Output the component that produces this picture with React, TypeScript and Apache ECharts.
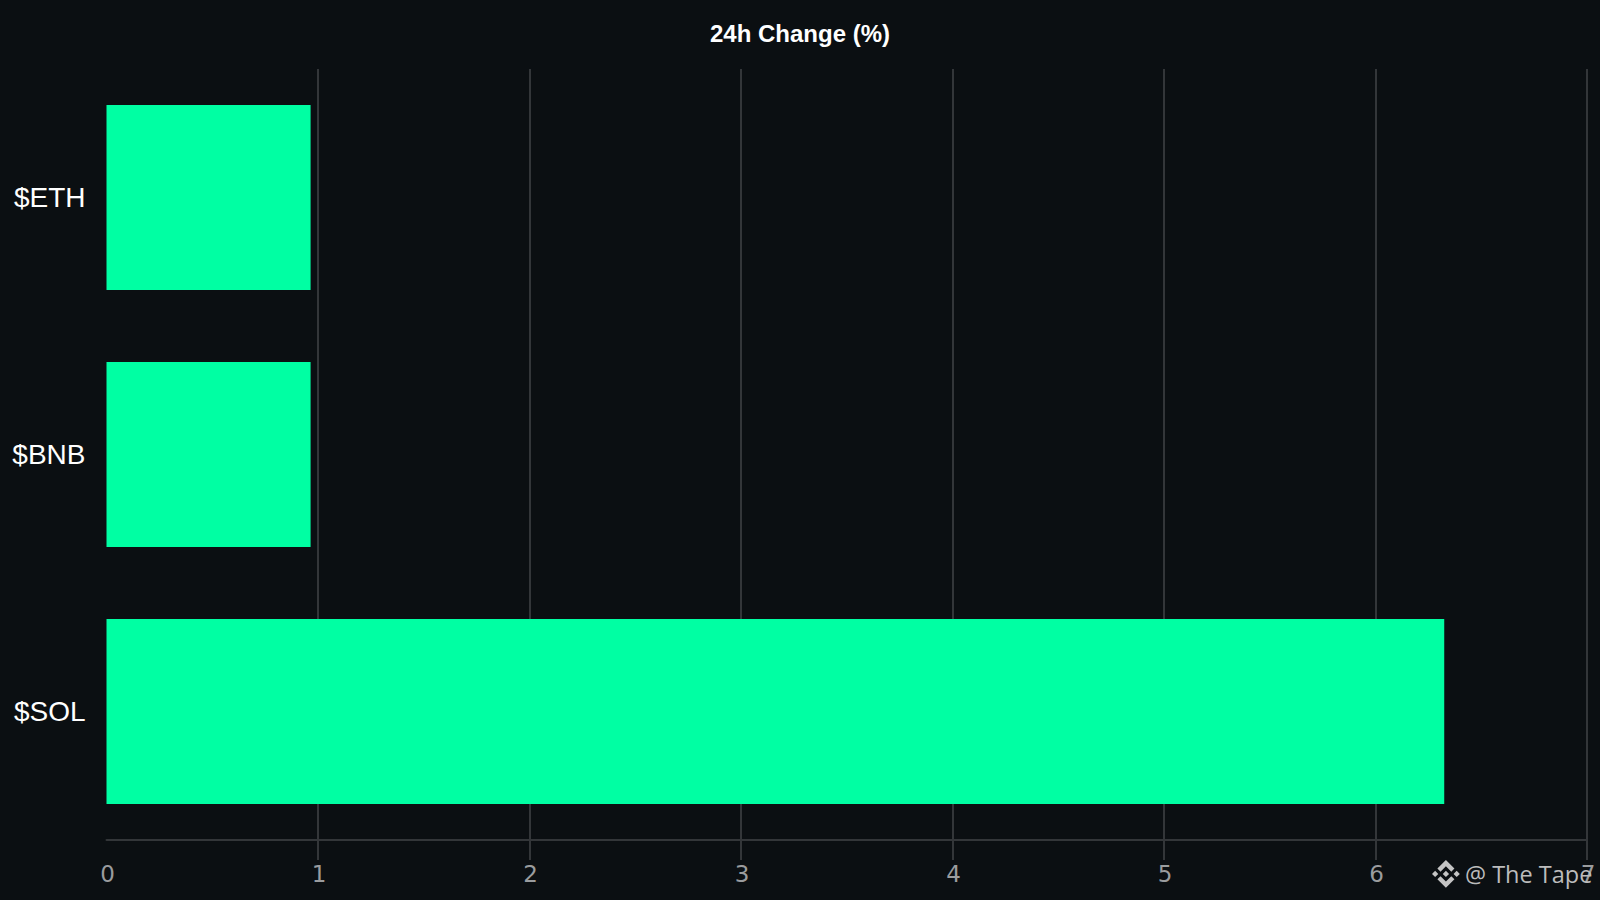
import React, { useEffect, useRef } from "react";
import * as echarts from "echarts";

const categories = ["$ETH", "$BNB", "$SOL"];
const changes = [0.965, 0.965, 6.325];
const xTicks = [0, 1, 2, 3, 4, 5, 6, 7];
const titleText = "24h Change (%)";
const watermarkText = "@ The Tape";

const LOGO =
  "M16.624 13.9202l2.7175 2.7154-7.353 7.353-7.353-7.352 2.7175-2.7164 4.6355 4.6595 4.6356-4.6595zm4.6366-4.6366L24 12l-2.7154 2.7164L18.5682 12l2.6924-2.7164zm-9.272.001l2.7163 2.6914-2.7164 2.7174v-.001L9.2721 12l2.7164-2.7154zm-9.2722-.001L5.4088 12l-2.6914 2.6924L0 12l2.7164-2.7164zM11.9885.0115l7.353 7.329-2.7174 2.7154-4.6356-4.6356-4.6355 4.6595-2.7174-2.7154 7.353-7.353z";
echarts.graphic.registerShape("logo", echarts.graphic.extendPath(LOGO, {}) as any);

export default function App() {
  const ref = useRef<HTMLDivElement>(null);
  useEffect(() => {
    const chart = echarts.init(ref.current!, undefined, { renderer: "svg" });
    chart.setOption({
      animation: false,
      backgroundColor: "#0b0f12",
      title: {
        text: titleText,
        left: "center",
        top: 16,
        textStyle: { color: "#ffffff", fontFamily: "Liberation Sans", fontSize: 24, fontWeight: "bold" },
      },
      grid: { left: 106.5, right: 13, top: 69, bottom: 60, containLabel: false },
      xAxis: {
        type: "value",
        min: xTicks[0],
        max: xTicks[xTicks.length - 1],
        interval: 1,
        axisLine: { show: true, lineStyle: { color: "#333639", width: 2 } },
        axisTick: { show: true, length: 20, customValues: xTicks.slice(1), lineStyle: { color: "#333639", width: 2 } },
        axisLabel: { color: "#9a9c9e", fontFamily: "DejaVu Sans", fontSize: 23, margin: 22, padding: [0, 0, 0, 2] },
        splitLine: { show: true, lineStyle: { color: "#333639", width: 2 } },
      },
      yAxis: {
        type: "category",
        data: categories,
        inverse: true,
        axisLine: { show: false },
        axisTick: { show: false },
        axisLabel: { color: "#ffffff", fontFamily: "Liberation Sans", fontSize: 28, margin: 21 },
        splitLine: { show: false },
      },
      series: [
        {
          type: "bar",
          data: changes,
          barCategoryGap: "28%",
          itemStyle: { color: "#00ffa3" },
        },
      ],
      graphic: [
        {
          type: "logo",
          x: 1432,
          y: 860,
          scaleX: 1.16,
          scaleY: 1.16,
          z: 100,
          style: { fill: "#c4c4c4" },
        },
        {
          type: "text",
          x: 1465,
          y: 874,
          z: 100,
          style: {
            text: watermarkText,
            fill: "#bcbcbc",
            font: '23.5px "Open Sans"',
            textVerticalAlign: "middle",
          },
        },
      ],
    });
    return () => chart.dispose();
  }, []);
  return <div ref={ref} style={{ position: "fixed", left: 0, top: 0, width: 1600, height: 900 }} />;
}
